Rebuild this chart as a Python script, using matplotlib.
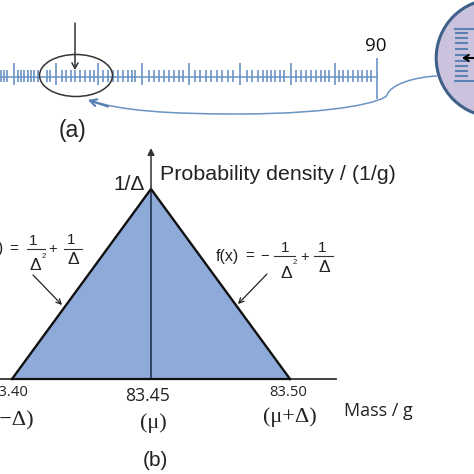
import matplotlib
matplotlib.use("Agg")
import matplotlib.pyplot as plt
from matplotlib.patches import Circle, Ellipse, PathPatch
from matplotlib.path import Path

# ---- data ----
mass = [83.40, 83.45, 83.50]
density = [0, 20, 0]
mass_labels = ["83.40", "83.45", "83.50"]
mass_symbols = ["(μ−Δ)", "(μ)", "(μ+Δ)"]
# Scale positions on the schematic ruler (drawn in figure pixel units)
ruler_major = [14, 55.7, 98.5, 142, 189, 240, 291, 335]
ruler_minor = [1, 4, 7, 18, 21, 24, 28, 31, 34, 38, 47, 50,
               62, 66, 71, 75, 80, 85, 90, 94, 103, 108, 113, 118, 123, 128, 132, 135,
               149, 154, 159, 164, 169, 174, 179, 183,
               195, 200, 206, 211, 217, 222, 228, 233,
               247, 252, 258, 263, 267, 271, 275, 280, 284,
               296, 301, 306, 311, 316, 321, 325, 329,
               339, 343, 348, 353, 358, 362, 367, 371]
ruler_end = 377
zoom_minor = [33, 38, 43, 49, 55, 61, 66, 71, 76]
zoom_major = [29, 81]

BLUE = "#6a94c4"
SANS = "Liberation Sans"
SERIF = "Liberation Serif"

fig = plt.figure(figsize=(4.74, 4.74), dpi=100, facecolor="white")
ax = fig.add_axes([0, 0, 1, 1])
ax.set_xlim(0, 474)
ax.set_ylim(474, 0)
ax.axis("off")

# ---- panel (a): ruler ----
ax.plot([0, ruler_end], [77, 77], color=BLUE, lw=1.1, zorder=2)
ax.vlines(ruler_minor, 70, 82, color=BLUE, lw=1.2, zorder=2)
ax.vlines(ruler_major, 63, 85, color=BLUE, lw=1.2, zorder=2)
ax.vlines(ruler_end, 58, 99, color=BLUE, lw=1.2, zorder=2)
ax.text(376, 46, "90", family="Open Sans", fontsize=13.5, ha="center", va="center", color="#111111")
ax.add_patch(Ellipse((76, 75.5), 73, 42, fill=False, ec="#333333", lw=1.1, zorder=3))
ax.annotate("", xy=(75, 70), xytext=(75, 23),
            arrowprops=dict(arrowstyle="->,head_width=0.22,head_length=0.4", color="#333333", lw=1.1,
                            shrinkA=0, shrinkB=0))
ax.text(73, 130, "(a)", family=SANS, fontsize=16.5, ha="center", va="center", color="#222222")

# lens
ax.add_patch(Circle((495, 58), 58.8, fc="#cbc3dd", ec="#3f6088", lw=2.2, zorder=3))
ax.hlines(zoom_minor, 455, 468, color="#5b82b5", lw=1.5, zorder=4)
ax.hlines(zoom_major, 454, 474, color="#5b82b5", lw=1.5, zorder=4)
ax.annotate("", xy=(462, 58), xytext=(476, 58), zorder=5,
            arrowprops=dict(arrowstyle="->,head_width=0.22,head_length=0.35", color="black", lw=1.5,
                            shrinkA=0, shrinkB=0))

# callout curve
verts = [(437, 76), (415, 77), (391, 84), (387, 95),
         (385, 101), (340, 114), (237, 114),
         (170, 114), (120, 111), (89, 100)]
codes = [Path.MOVETO] + [Path.CURVE4] * 9
ax.add_patch(PathPatch(Path(verts, codes), fill=False, ec=BLUE, lw=1.1, zorder=2))
ax.annotate("", xy=(88, 100), xytext=(108, 106.5),
            arrowprops=dict(arrowstyle="->,head_width=0.25,head_length=0.45", color="#5b82b5", lw=1.6,
                            shrinkA=0, shrinkB=0))

# ---- panel (b): density axes ----
dens = fig.add_axes([0, 0, 1, 1], facecolor="none")
px_per_g = (290 - 12) / (mass[2] - mass[0])
dens.set_xlim(mass[0] - 12 / px_per_g, mass[0] + (474 - 12) / px_per_g)
px_per_d = (379 - 189) / max(density)
dens.set_ylim(-(474 - 379) / px_per_d, 379 / px_per_d)
dens.axis("off")
dens.fill(mass, density, fc="#8eaad9", ec="none", zorder=1)
dens.plot(mass, density, color="#111111", lw=1.7, solid_joinstyle="miter", zorder=3)
dens.plot([mass[1], mass[1]], [0, max(density)], color="#1f3554", lw=1.2, zorder=2)

# baseline and vertical axis
ax.set_zorder(2)
ax.patch.set_alpha(0)
ax.plot([0, 336], [379, 379], color="#333333", lw=1.3, zorder=3)
ax.plot([12, 290], [379, 379], color="#111111", lw=1.6, zorder=3)
ax.annotate("", xy=(151, 148), xytext=(151, 189),
            arrowprops=dict(arrowstyle="-|>,head_width=0.2,head_length=0.4", color="#333333", lw=1.1,
                            shrinkA=0, shrinkB=0))

# tick labels through the density scale
sizes = [10.6, 12.7, 10.6]
lab_off = [(-2.5, -14), (-3, -17), (-2, -14)]
sym_off = [(-5, -41), (2, -44), (0, -38)]
for m, lab, sym, fs, lo, so in zip(mass, mass_labels, mass_symbols, sizes, lab_off, sym_off):
    dens.annotate(lab, (m, 0), xytext=(lo[0] * 0.72, lo[1] * 0.72), textcoords="offset points",
                  family="Open Sans", fontsize=fs, ha="center", va="center", color="#222222",
                  annotation_clip=False)
    dens.annotate(sym, (m, 0), xytext=(so[0] * 0.72, so[1] * 0.72), textcoords="offset points",
                  family=SERIF, fontsize=16, ha="center", va="center", color="#222222",
                  annotation_clip=False)

ax.text(145, 184, "1/Δ", family=SANS, fontsize=15, ha="right", va="center", color="#222222")
ax.text(160, 174, "Probability density / (1/g)", family=SANS, fontsize=15.4, ha="left", va="center",
        color="#222222")
ax.text(344, 411, "Mass / g", family="Open Sans", fontsize=13, ha="left", va="center", color="#222222")
ax.text(155, 460, "(b)", family=SANS, fontsize=15, ha="center", va="center", color="#222222")


def eq(x, y, s, fs=8.5, ha="center"):
    ax.text(x, y, s, family=SANS, fontsize=fs, ha=ha, va="center", color="#222222", zorder=6)


# left equation
eq(4, 249, "f(x)", 11.5, "right")
eq(14, 249, "=", 11)
ax.plot([27, 45], [249, 249], color="#333333", lw=0.8)
eq(33, 241, "1", 11)
eq(35, 266, "Δ", 12.5)
eq(44, 256, "2", 5.5)
eq(53, 249, "+", 10.5)
ax.plot([64, 82], [249, 249], color="#333333", lw=0.8)
eq(71, 240, "1", 11)
eq(73, 260, "Δ", 12.5)

# right equation
eq(216, 257, "f(x)", 11.5, "left")
eq(250, 256, "=", 11)
eq(265, 256, "−", 10.5)
ax.plot([274, 295], [256, 256], color="#333333", lw=0.8)
eq(285, 248, "1", 11)
eq(286, 273, "Δ", 12.5)
eq(295, 263, "2", 5.5)
eq(305, 257, "+", 10.5)
ax.plot([314, 333], [256, 256], color="#333333", lw=0.8)
eq(322, 248, "1", 11)
eq(324, 267, "Δ", 12.5)

for start, end in [((33, 275), (62, 305)), ((267, 274), (238, 304))]:
    ax.annotate("", xy=end, xytext=start,
                arrowprops=dict(arrowstyle="->,head_width=0.18,head_length=0.35", color="#222222", lw=0.9,
                                shrinkA=0, shrinkB=0), zorder=6)

fig.savefig("out.png", dpi=100, facecolor="white")
